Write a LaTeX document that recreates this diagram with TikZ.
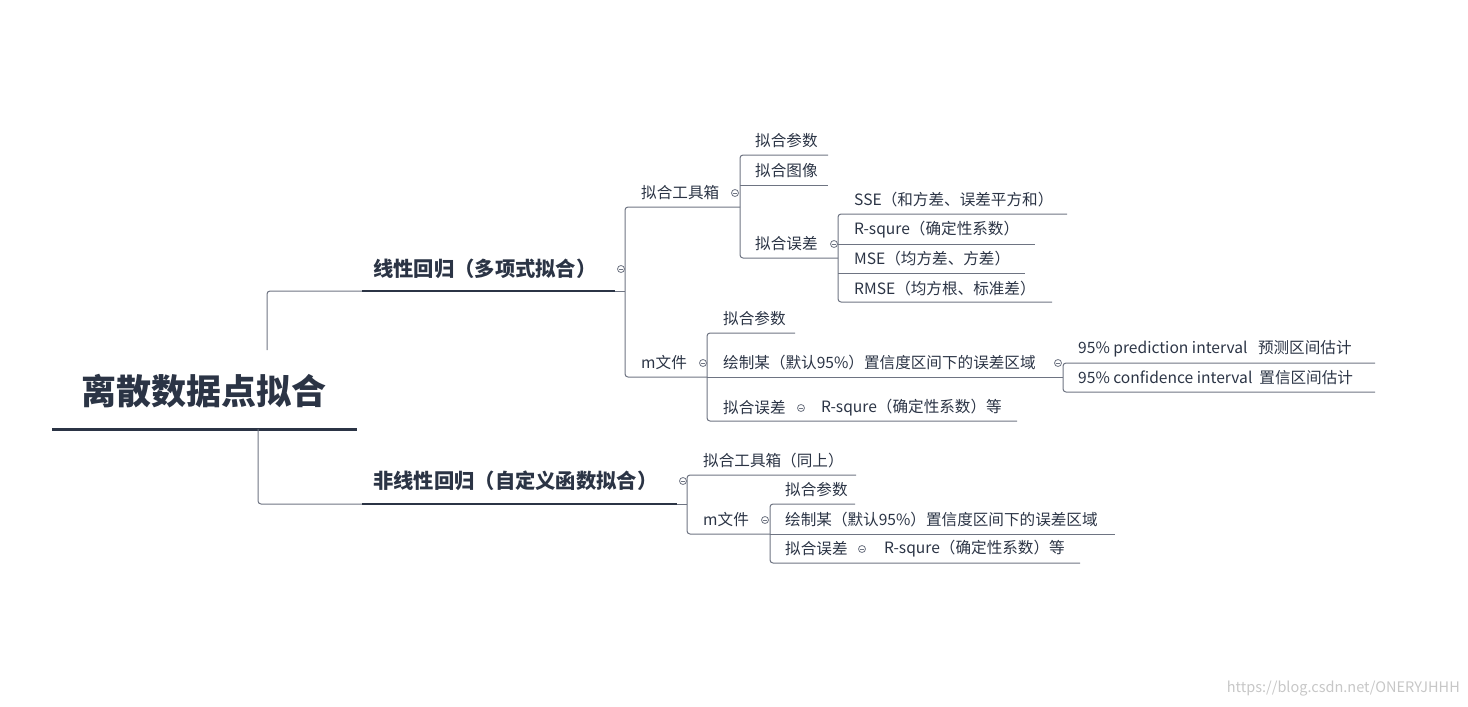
\documentclass[tikz,border=0pt]{standalone}
\usepackage{fontspec}
\setmainfont{Noto Sans CJK SC}
\begin{document}
\begin{tikzpicture}[x=1pt,y=-1pt,
  txt/.style={anchor=west,inner sep=0pt,text=tc,font=\fontsize{15.6}{16}\selectfont},
  lvl/.style={anchor=west,inner sep=0pt,text=tc,font=\fontsize{20.3}{21}\selectfont\bfseries},
  ln/.style={draw=lc,line width=1pt,rounded corners=3pt},
  tog/.style={circle,draw=lc,line width=0.8pt,minimum size=7pt,inner sep=0pt,
     path picture={\draw[lc,line width=0.6pt] ([xshift=-2pt]path picture bounding box.center)--([xshift=2pt]path picture bounding box.center);}}]
\definecolor{tc}{HTML}{2B3445}
\definecolor{lc}{HTML}{6E7482}
\useasboundingbox (0,0) rectangle (1468,707);
% root
\node[inner sep=0pt,text=tc,font=\fontsize{35}{35}\selectfont\bfseries] (root) at (204,391) {离散数据点拟合};
\draw[tc,line width=3pt] (52,429) -- (357,429);
\node[lvl] (lin) at (373,269) {线性回归（多项式拟合）};
\node[lvl] (nonlin) at (373,481) {非线性回归（自定义函数拟合）};
\draw[ln] (267,350) -- (267,291) -- (362,291);
\draw[ln] (258,429) -- (258,504) -- (362,504);
\draw[tc,line width=2pt] (362,291) -- (615,291);
\draw[tc,line width=2pt] (362,504) -- (677,504);
\node[tog] (t1) at (621,269) {};
\node[tog] (t2) at (683,481) {};
% linear branch
\draw[ln] (615,291) -- (625,291);
\draw[ln] (740,207) -- (625,207) -- (625,377) -- (707,377);
\node[txt] (box) at (641,193) {拟合工具箱};
\node[tog] at (735,193) {};
\node[txt] (mf) at (641,363) {m文件};
\node[tog] at (703,363) {};
% toolbox children
\draw[ln] (828,155) -- (740,155) -- (740,258) -- (838,258);
\draw[ln] (740,185) -- (828,185);
\node[txt] at (755,141) {拟合参数};
\node[txt] at (755,171) {拟合图像};
\node[txt] at (755,244) {拟合误差};
\node[tog] at (834,244) {};
\draw[ln] (1067,214) -- (838,214) -- (838,302) -- (1052,302);
\draw[ln] (838,244) -- (1035,244);
\draw[ln] (838,273) -- (1025,273);
\node[txt] at (854,200) {SSE（和方差、误差平方和）};
\node[txt] at (854,230) {R-squre（确定性系数）};
\node[txt] at (854,259) {MSE（均方差、方差）};
\node[txt] at (854,289) {RMSE（均方根、标准差）};
% m file children
\draw[ln] (795,333) -- (707,333) -- (707,421) -- (1017,421);
\draw[ln] (707,377) -- (1063,377);
\node[txt] at (723,319) {拟合参数};
\node[txt] at (723,363) {绘制某（默认95\%）置信度区间下的误差区域};
\node[tog] at (1058,363) {};
\node[txt] at (723,408) {拟合误差};
\node[tog] at (801,408) {};
\node[txt] at (821,408) {R-squre（确定性系数）等};
\draw[ln] (1375,363) -- (1063,363) -- (1063,392) -- (1375,392);
\node[txt] at (1078,349) {95\% prediction interval\ \ \ 预测区间估计};
\node[txt] at (1078,378) {95\% confidence interval\ \ 置信区间估计};
% nonlinear branch
\draw[ln] (677,504) -- (687,504);
\draw[ln] (856,475) -- (687,475) -- (687,534) -- (770,534);
\node[txt] at (703,461) {拟合工具箱（同上）};
\node[txt] at (703,520) {m文件};
\node[tog] at (765,520) {};
\draw[ln] (855,504) -- (770,504) -- (770,563) -- (1080,563);
\draw[ln] (770,534) -- (1115,534);
\node[txt] at (785,490) {拟合参数};
\node[txt] at (785,520) {绘制某（默认95\%）置信度区间下的误差区域};
\node[txt] at (785,549) {拟合误差};
\node[tog] at (862,549) {};
\node[txt] at (884,549) {R-squre（确定性系数）等};
\node[anchor=east,inner sep=0pt,text=black!22,font=\fontsize{14.5}{15}\selectfont] at (1460,689) {https://blog.csdn.net/ONERYJHHH};
\end{tikzpicture}
\end{document}
